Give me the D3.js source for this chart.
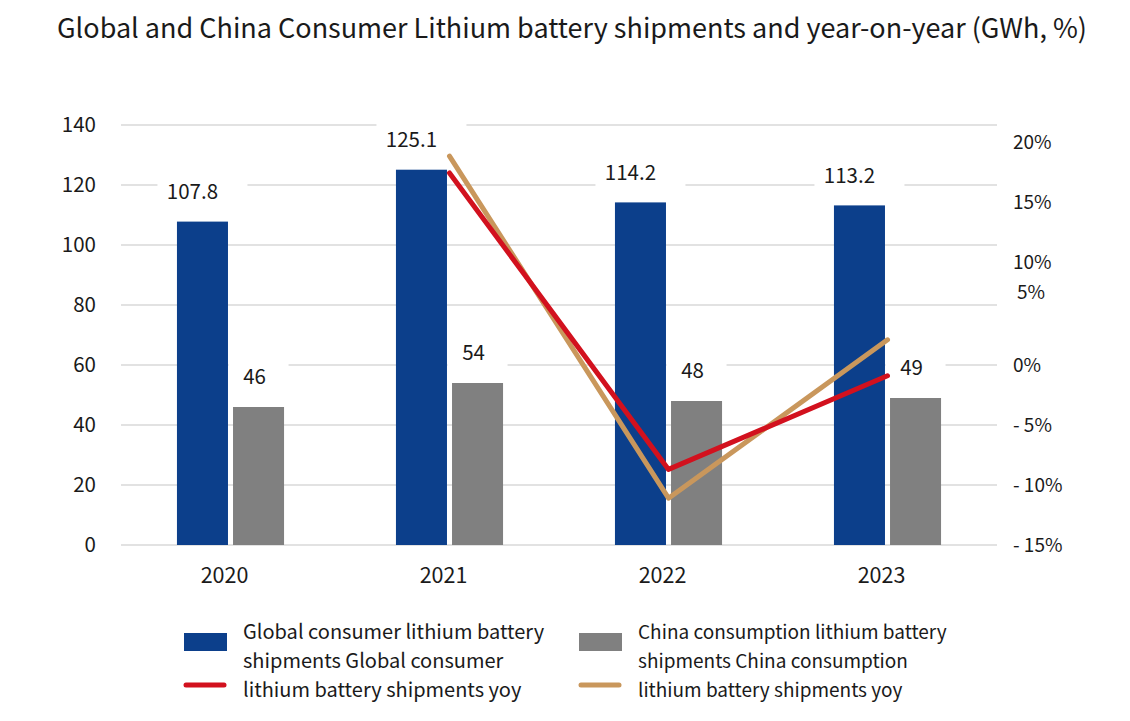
<!DOCTYPE html>
<html lang="en">
<head>
<meta charset="UTF-8">
<title>Consumer lithium battery shipments</title>
<script src="https://d3js.org/d3.v7.min.js"></script>
<style>
    body { margin: 0; background: #fff; }
    text { font-family: "Noto Sans CJK SC", "Noto Sans", sans-serif; fill: #1a1a1a; }
</style>
</head>
<body>
<svg width="1130" height="721"></svg>
<script>
    // data
    var years = ["2020", "2021", "2022", "2023"];
    var globalShip = [107.8, 125.1, 114.2, 113.2];
    var chinaShip = [46, 54, 48, 49];
    var globalYoy = [null, 16.0, -8.7, -0.9];
    var chinaYoy = [null, 17.4, -11.1, 2.1];
    var leftTicks = [0, 20, 40, 60, 80, 100, 120, 140];
    var rightTicks = [20, 15, 10, 5, 0, -5, -10, -15];

    var blue = "#0c3f8b", grey = "#808080", red = "#d2111e", gold = "#c9975c";
    // the original shifts some right-hand labels off their ticks
    var rightLabelShift = [17, 17, 17, -13, 0, 0, 0, 0];

    var svg = d3.select("svg");

    var x = d3.scaleBand().domain(years).range([121, 997])
        .paddingInner(0.511).paddingOuter(0.2555);
    var x1 = d3.scaleBand().domain(["global", "china"])
        .range([0, x.bandwidth()]).paddingInner(0.09);
    var y = d3.scaleLinear().domain([0, 140]).range([545, 125]);
    var y2 = d3.scaleLinear().domain([-15, 20]).range([545, 125]);

    svg.append("text")
        .attr("x", 572).attr("y", 29).attr("dy", "0.35em")
        .attr("text-anchor", "middle")
        .attr("font-size", 27)
        .text("Global and China Consumer Lithium battery shipments and year-on-year (GWh, %)");

    // grid
    svg.append("g").selectAll("line").data(leftTicks).enter().append("line")
        .attr("x1", 121).attr("x2", 997)
        .attr("y1", function (d) { return y(d); })
        .attr("y2", function (d) { return y(d); })
        .attr("stroke", "#d9d9d9").attr("stroke-width", 1.5);

    // left axis
    var yAxis = svg.append("g").attr("transform", "translate(121,0)")
        .call(d3.axisLeft(y).tickValues(leftTicks).tickSize(0).tickPadding(25));
    yAxis.select(".domain").remove();
    yAxis.selectAll("text").attr("font-size", 20.5).attr("fill", "#1a1a1a");

    // right axis
    var y2Axis = svg.append("g").attr("transform", "translate(997,0)")
        .call(d3.axisRight(y2).tickValues(rightTicks).tickSize(0).tickPadding(16)
            .tickFormat(function (d) { return d < 0 ? "- " + (-d) + "%" : d + "%"; }));
    y2Axis.select(".domain").remove();
    y2Axis.selectAll("text").attr("font-size", 19).attr("fill", "#1a1a1a")
        .attr("transform", function (d, i) {
            var dx = d === 5 ? 4 : 0;
            return "translate(" + dx + "," + rightLabelShift[i] + ")";
        });

    // bottom axis
    var xAxis = svg.append("g").attr("transform", "translate(0,545)")
        .call(d3.axisBottom(x).tickSize(0).tickPadding(23));
    xAxis.select(".domain").remove();
    xAxis.selectAll("text").attr("font-size", 21.5).attr("fill", "#1a1a1a").attr("dx", -6);

    var rows = years.map(function (yr, i) {
        return {year: yr, global: globalShip[i], china: chinaShip[i]};
    });

    var groups = svg.append("g").selectAll("g").data(rows).enter().append("g")
        .attr("transform", function (d) { return "translate(" + x(d.year) + ",0)"; });

    var cells = groups.selectAll("g").data(function (d) {
        return [{key: "global", value: d.global}, {key: "china", value: d.china}];
    }).enter().append("g");

    // white label boxes sit over the grid, under the bars
    cells.append("rect")
        .attr("x", function (d) { return x1(d.key) + x1.bandwidth() / 2 - (d.key === "global" ? 45 : 30); })
        .attr("y", function (d) { return y(d.value) - 48; })
        .attr("width", function (d) { return d.key === "global" ? 90 : 60; })
        .attr("height", 36)
        .attr("fill", "#fff");

    cells.append("rect")
        .attr("x", function (d) { return x1(d.key); })
        .attr("y", function (d) { return y(d.value); })
        .attr("width", x1.bandwidth())
        .attr("height", function (d) { return y(0) - y(d.value); })
        .attr("fill", function (d) { return d.key === "global" ? blue : grey; });

    cells.append("text")
        .attr("x", function (d) { return x1(d.key) + x1.bandwidth() / 2 + (d.key === "global" ? -10 : -4); })
        .attr("y", function (d) { return y(d.value) - 30; })
        .attr("dy", "0.35em")
        .attr("text-anchor", "middle")
        .attr("font-size", 20.5)
        .text(function (d) { return d.value; });

    // yoy lines
    var line = d3.line()
        .defined(function (d) { return d.v !== null; })
        .x(function (d) { return x(d.year) + x.bandwidth() / 2; })
        .y(function (d) { return y2(d.v); });

    [[chinaYoy, gold], [globalYoy, red]].forEach(function (s) {
        svg.append("path")
            .datum(years.map(function (yr, i) { return {year: yr, v: s[0][i]}; }))
            .attr("d", line)
            .attr("fill", "none")
            .attr("stroke", s[1])
            .attr("stroke-width", 5)
            .attr("stroke-linecap", "round")
            .attr("stroke-linejoin", "round");
    });

    // legend
    var legend = [
        {x: 184, fill: blue, stroke: red, size: 20,
            lines: ["Global consumer lithium battery", "shipments Global consumer", "lithium battery shipments yoy"]},
        {x: 579, fill: grey, stroke: gold, size: 19,
            lines: ["China consumption lithium battery", "shipments China consumption", "lithium battery shipments yoy"]}
    ];
    var lg = svg.append("g").selectAll("g").data(legend).enter().append("g")
        .attr("transform", function (d) { return "translate(" + d.x + ",0)"; });
    lg.append("rect").attr("x", 0).attr("y", 633).attr("width", 43).attr("height", 18)
        .attr("fill", function (d) { return d.fill; });
    lg.append("line").attr("x1", 2).attr("x2", 40).attr("y1", 685).attr("y2", 685)
        .attr("stroke", function (d) { return d.stroke; })
        .attr("stroke-width", 5).attr("stroke-linecap", "round");
    lg.each(function (d) {
        d3.select(this).selectAll("text").data(d.lines).enter().append("text")
            .attr("x", 59)
            .attr("y", function (t, i) { return 632 + i * 29; })
            .attr("dy", "0.35em")
            .attr("font-size", d.size)
            .text(function (t) { return t; });
    });
</script>
</body>
</html>
